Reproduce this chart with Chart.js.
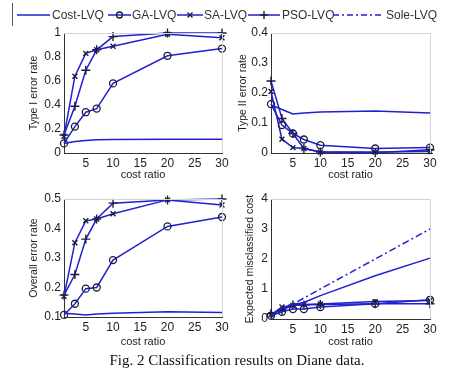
<!DOCTYPE html>
<html>
<head>
<meta charset="utf-8">
<script src="https://cdn.jsdelivr.net/npm/chart.js@4"></script>
<style>
  body { margin: 0; background: #fff; }
  #page { position: relative; width: 474px; height: 377px; overflow: hidden; font-family: "Liberation Sans", Arial, sans-serif; }
  canvas.panel { position: absolute; left: 0; top: 0; }
  #legend { position: absolute; left: 0; top: 0; width: 474px; height: 30px; font-size: 12px; color: #333; }
  #legend .bar { position: absolute; left: 12px; top: 3px; width: 1px; height: 23px; background: #555; }
  #legend svg { position: absolute; top: 9px; }
  #legend span { position: absolute; top: 8px; white-space: nowrap; }
  #caption { position: absolute; left: 0; width: 474px; top: 352px; text-align: center; font: 15px "Liberation Serif", "Times New Roman", serif; color: #111; }
</style>
</head>
<body>
<div id="page">
  <canvas class="panel" id="type1" width="474" height="377"></canvas>
  <canvas class="panel" id="type2" width="474" height="377"></canvas>
  <canvas class="panel" id="overall" width="474" height="377"></canvas>
  <canvas class="panel" id="expected" width="474" height="377"></canvas>
  <div id="legend"></div>
  <div id="caption">Fig. 2 Classification results on Diane data.</div>
</div>
<script>
// cost ratios on the x axis
const costRatio = [1, 3, 5, 7, 10, 20, 30];
const xTicks = [5, 10, 15, 20, 25, 30];
const methods = ["Cost-LVQ", "GA-LVQ", "SA-LVQ", "PSO-LVQ", "Sole-LVQ"];

// Type I error rate
const type1Cost = [0.08, 0.095, 0.105, 0.11, 0.112, 0.115, 0.115];
const type1GA = [0.08, 0.22, 0.34, 0.37, 0.58, 0.81, 0.87];
const type1SA = [0.14, 0.64, 0.83, 0.86, 0.89, 0.99, 0.96];
const type1PSO = [0.15, 0.39, 0.69, 0.86, 0.97, 1.0, 1.0];

// Type II error rate
const type2Cost = [0.16, 0.145, 0.13, 0.133, 0.137, 0.14, 0.133];
const type2GA = [0.163, 0.093, 0.065, 0.045, 0.026, 0.015, 0.018];
const type2SA = [0.205, 0.046, 0.018, 0.015, 0.003, 0.003, 0.005];
const type2PSO = [0.24, 0.115, 0.065, 0.015, 0.003, 0.001, 0.011];

// Overall error rate
const overallCost = [0.113, 0.11, 0.107, 0.11, 0.113, 0.118, 0.115];
const overallGA = [0.107, 0.145, 0.196, 0.2, 0.293, 0.407, 0.439];
const overallSA = [0.17, 0.352, 0.426, 0.432, 0.45, 0.497, 0.48];
const overallPSO = [0.174, 0.244, 0.364, 0.432, 0.486, 0.497, 0.5];

// Expected misclassified cost
const expectedCost = [0.14, 0.37, 0.48, 0.55, 0.78, 1.44, 2.03];
const expectedGA = [0.11, 0.24, 0.33, 0.33, 0.4, 0.51, 0.64];
const expectedSA = [0.14, 0.4, 0.45, 0.48, 0.5, 0.58, 0.62];
const expectedPSO = [0.18, 0.29, 0.47, 0.47, 0.48, 0.51, 0.51];
const expectedSole = [0.1, 0.3, 0.5, 0.7, 1.0, 2.0, 3.0];

const lineBlue = "rgb(32, 32, 208)";
const markerDark = "#1c1c3a";
const solePattern = [7, 3, 2, 3];

function toPoints(values) {
  return values.map((v, i) => ({ x: costRatio[i], y: v }));
}

function buildDatasets(cost, ga, sa, pso, sole) {
  const base = { borderColor: lineBlue, borderWidth: 1.5, tension: 0, clip: false, fill: false };
  const sets = [
    { ...base, label: methods[0], data: toPoints(cost), pointRadius: 0 },
    { ...base, label: methods[1], data: toPoints(ga), pointStyle: "circle", pointRadius: 3.5,
      pointBorderColor: markerDark, pointBackgroundColor: "rgba(0,0,0,0)", pointBorderWidth: 1.3 },
    { ...base, label: methods[2], data: toPoints(sa), pointStyle: "crossRot", pointRadius: 3.5,
      pointBorderColor: markerDark, pointBorderWidth: 1.4 },
    { ...base, label: methods[3], data: toPoints(pso), pointStyle: "cross", pointRadius: 4.5,
      pointBorderColor: markerDark, pointBorderWidth: 1.4 },
  ];
  if (sole) {
    sets.push({ ...base, label: methods[4], data: toPoints(sole), pointRadius: 0, borderDash: solePattern });
  }
  return sets;
}

// faint top / right frame like the MATLAB box
const boxPlugin = {
  id: "box",
  afterDraw(chart) {
    const { ctx, chartArea: a } = chart;
    ctx.save();
    ctx.strokeStyle = "#d4d4d4";
    ctx.lineWidth = 1;
    ctx.beginPath();
    ctx.moveTo(a.left, a.top + 0.5);
    ctx.lineTo(a.right + 0.5, a.top + 0.5);
    ctx.lineTo(a.right + 0.5, a.bottom);
    ctx.stroke();
    ctx.restore();
  },
};

const fontFamily = "'Liberation Sans', Arial, sans-serif";
const tickFont = { family: fontFamily, size: 12 };
const xTitleFont = { family: fontFamily, size: 11 };
const yTitleFont = { family: fontFamily, size: 10.5 };

// MATLAB style labels: 0, 0.2, 1 (no padded decimals)
const plainLabel = (value) => String(Math.round(value * 1000) / 1000);

function makePanel(id, pad, yWidth, xHeight, yTitle, yMin, yMax, yStep, datasets) {
  const ctx = document.getElementById(id).getContext("2d");
  return new Chart(ctx, {
    type: "line",
    data: { datasets: datasets },
    plugins: [boxPlugin],
    options: {
      responsive: false,
      animation: false,
      devicePixelRatio: 1,
      layout: { padding: pad },
      plugins: { legend: { display: false }, tooltip: { enabled: false } },
      scales: {
        x: {
          type: "linear",
          min: 1,
          max: 30,
          grid: { display: false, drawTicks: false },
          border: { display: true, color: "#333", width: 1 },
          ticks: { font: tickFont, color: "#222", padding: 3, callback: plainLabel },
          afterBuildTicks: (axis) => { axis.ticks = xTicks.map((v) => ({ value: v })); },
          afterFit: (axis) => { axis.height = xHeight; },
          title: { display: true, text: "cost ratio", font: xTitleFont, color: "#222", padding: { top: 0, bottom: 1 } },
        },
        y: {
          min: yMin,
          max: yMax,
          grid: { display: false, drawTicks: false },
          border: { display: true, color: "#333", width: 1 },
          ticks: { stepSize: yStep, font: tickFont, color: "#222", padding: 3, callback: plainLabel },
          afterFit: (axis) => { axis.width = yWidth; },
          title: { display: true, text: yTitle, font: yTitleFont, color: "#222", padding: { top: 0, bottom: 0 } },
        },
      },
    },
  });
}

makePanel("type1", { left: 28, top: 33, right: 252, bottom: 194 }, 36, 30,
  "Type I error rate", 0, 1, 0.2, buildDatasets(type1Cost, type1GA, type1SA, type1PSO));
makePanel("type2", { left: 237, top: 33, right: 44, bottom: 194 }, 34, 30,
  "Type II error rate", 0, 0.4, 0.1, buildDatasets(type2Cost, type2GA, type2SA, type2PSO));
makePanel("overall", { left: 28, top: 199, right: 252, bottom: 27 }, 36, 33,
  "Overall error rate", 0.1, 0.5, 0.1, buildDatasets(overallCost, overallGA, overallSA, overallPSO));
makePanel("expected", { left: 244, top: 199, right: 44, bottom: 27 }, 27, 31,
  "Expected misclassified cost", 0, 4, 1, buildDatasets(expectedCost, expectedGA, expectedSA, expectedPSO, expectedSole));

// Legend row across the top
function buildLegend() {
  const legend = document.getElementById("legend");
  const samples = [
    { x: 17, w: 33, marker: null, dash: null, textX: 52 },
    { x: 108, w: 23, marker: "circle", dash: null, textX: 132 },
    { x: 177, w: 26, marker: "x", dash: null, textX: 204 },
    { x: 248, w: 32, marker: "plus", dash: null, textX: 282 },
    { x: 333, w: 50, marker: null, dash: "6 3 2 3", textX: 386 },
  ];
  let html = '<div class="bar"></div>';
  samples.forEach((s, i) => {
    const cx = s.w / 2;
    let mark = "";
    if (s.marker === "circle") mark = `<circle cx="${cx}" cy="6" r="3" fill="none" stroke="${markerDark}" stroke-width="1.3"/>`;
    if (s.marker === "x") mark = `<path d="M${cx - 2.5} 3.5 L${cx + 2.5} 8.5 M${cx + 2.5} 3.5 L${cx - 2.5} 8.5" stroke="${markerDark}" stroke-width="1.4"/>`;
    if (s.marker === "plus") mark = `<path d="M${cx - 4} 6 L${cx + 4} 6 M${cx} 2 L${cx} 10" stroke="${markerDark}" stroke-width="1.4"/>`;
    html += `<svg style="left:${s.x}px" width="${s.w}" height="12">
      <line x1="0" y1="6" x2="${s.w}" y2="6" stroke="${lineBlue}" stroke-width="1.5" ${s.dash ? `stroke-dasharray="${s.dash}"` : ""}/>${mark}</svg>`;
    html += `<span style="left:${s.textX}px">${methods[i]}</span>`;
  });
  legend.innerHTML = html;
}

buildLegend();
</script>
</body>
</html>
